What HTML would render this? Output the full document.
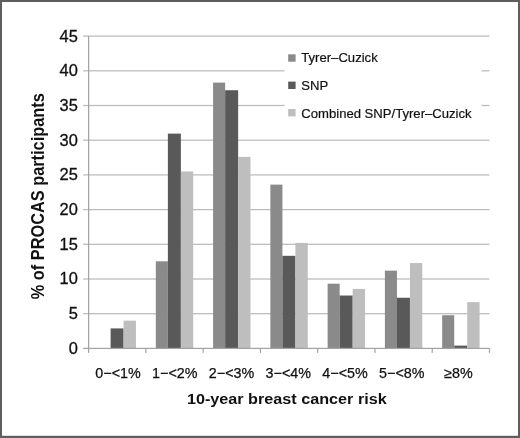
<!DOCTYPE html>
<html lang="en">
<head>
<meta charset="utf-8">
<title>10-year breast cancer risk</title>
<style>
html,body{margin:0;padding:0;background:#fff;}
body{width:520px;height:438px;position:relative;overflow:hidden;}
</style>
</head>
<body>
<svg width="520" height="438" viewBox="0 0 520 438" style="display:block;position:absolute;left:0;top:0" font-family="'Liberation Sans', sans-serif">
<rect x="0" y="0" width="520" height="438" fill="#fff"/>
<rect x="83.10" y="313.08" width="406.39" height="1.25" fill="#bbbbbb"/>
<rect x="83.10" y="278.38" width="406.39" height="1.25" fill="#bbbbbb"/>
<rect x="83.10" y="243.68" width="406.39" height="1.25" fill="#bbbbbb"/>
<rect x="83.10" y="208.98" width="406.39" height="1.25" fill="#bbbbbb"/>
<rect x="83.10" y="174.28" width="406.39" height="1.25" fill="#bbbbbb"/>
<rect x="83.10" y="139.58" width="406.39" height="1.25" fill="#bbbbbb"/>
<rect x="83.10" y="104.88" width="406.39" height="1.25" fill="#bbbbbb"/>
<rect x="83.10" y="70.18" width="406.39" height="1.25" fill="#bbbbbb"/>
<rect x="83.10" y="35.48" width="406.39" height="1.25" fill="#bbbbbb"/>
<rect x="284.5" y="42" width="197" height="90" fill="#fff"/>
<rect x="110.60" y="328.41" width="13.00" height="19.99" fill="#595959"/>
<rect x="123.60" y="320.64" width="12.35" height="27.76" fill="#bebebe"/>
<rect x="155.82" y="261.30" width="12.05" height="87.10" fill="#8a8a8a"/>
<rect x="167.87" y="133.61" width="13.00" height="214.79" fill="#595959"/>
<rect x="180.87" y="171.43" width="12.35" height="176.97" fill="#bebebe"/>
<rect x="213.09" y="82.60" width="12.05" height="265.80" fill="#8a8a8a"/>
<rect x="225.14" y="90.23" width="13.00" height="258.17" fill="#595959"/>
<rect x="238.14" y="156.86" width="12.35" height="191.54" fill="#bebebe"/>
<rect x="270.36" y="184.62" width="12.05" height="163.78" fill="#8a8a8a"/>
<rect x="282.41" y="255.82" width="13.00" height="92.58" fill="#595959"/>
<rect x="295.41" y="242.91" width="12.35" height="105.49" fill="#bebebe"/>
<rect x="327.63" y="283.72" width="12.05" height="64.68" fill="#8a8a8a"/>
<rect x="339.68" y="295.52" width="13.00" height="52.88" fill="#595959"/>
<rect x="352.68" y="288.92" width="12.35" height="59.48" fill="#bebebe"/>
<rect x="384.90" y="270.67" width="12.05" height="77.73" fill="#8a8a8a"/>
<rect x="396.95" y="297.74" width="13.00" height="50.66" fill="#595959"/>
<rect x="409.95" y="263.04" width="12.35" height="85.36" fill="#bebebe"/>
<rect x="442.17" y="315.23" width="12.05" height="33.17" fill="#8a8a8a"/>
<rect x="454.22" y="345.62" width="13.00" height="2.78" fill="#595959"/>
<rect x="467.22" y="302.11" width="12.35" height="46.29" fill="#bebebe"/>
<rect x="83.10" y="347.80" width="406.39" height="1.2" fill="#a2a2a2"/>
<rect x="88.00" y="36.10" width="1.2" height="316.80" fill="#a2a2a2"/>
<rect x="145.27" y="348.40" width="1.2" height="4.5" fill="#a2a2a2"/>
<rect x="202.54" y="348.40" width="1.2" height="4.5" fill="#a2a2a2"/>
<rect x="259.81" y="348.40" width="1.2" height="4.5" fill="#a2a2a2"/>
<rect x="317.08" y="348.40" width="1.2" height="4.5" fill="#a2a2a2"/>
<rect x="374.35" y="348.40" width="1.2" height="4.5" fill="#a2a2a2"/>
<rect x="431.62" y="348.40" width="1.2" height="4.5" fill="#a2a2a2"/>
<rect x="488.89" y="348.40" width="1.2" height="4.5" fill="#a2a2a2"/>
<text transform="translate(77.8,353.85) scale(1.04,1)" font-size="15.8" text-anchor="end" fill="#111" stroke="#111" stroke-width="0.3">0</text>
<text transform="translate(77.8,319.15) scale(1.04,1)" font-size="15.8" text-anchor="end" fill="#111" stroke="#111" stroke-width="0.3">5</text>
<text transform="translate(77.8,284.45) scale(1.04,1)" font-size="15.8" text-anchor="end" fill="#111" stroke="#111" stroke-width="0.3">10</text>
<text transform="translate(77.8,249.75) scale(1.04,1)" font-size="15.8" text-anchor="end" fill="#111" stroke="#111" stroke-width="0.3">15</text>
<text transform="translate(77.8,215.05) scale(1.04,1)" font-size="15.8" text-anchor="end" fill="#111" stroke="#111" stroke-width="0.3">20</text>
<text transform="translate(77.8,180.35) scale(1.04,1)" font-size="15.8" text-anchor="end" fill="#111" stroke="#111" stroke-width="0.3">25</text>
<text transform="translate(77.8,145.65) scale(1.04,1)" font-size="15.8" text-anchor="end" fill="#111" stroke="#111" stroke-width="0.3">30</text>
<text transform="translate(77.8,110.95) scale(1.04,1)" font-size="15.8" text-anchor="end" fill="#111" stroke="#111" stroke-width="0.3">35</text>
<text transform="translate(77.8,76.25) scale(1.04,1)" font-size="15.8" text-anchor="end" fill="#111" stroke="#111" stroke-width="0.3">40</text>
<text transform="translate(77.8,41.55) scale(1.04,1)" font-size="15.8" text-anchor="end" fill="#111" stroke="#111" stroke-width="0.3">45</text>
<text x="118.00" y="377.6" font-size="14.3" text-anchor="middle" fill="#111" stroke="#111" stroke-width="0.25">0<tspan dy="0.6">−</tspan><tspan dy="-0.6">&lt;1%</tspan></text>
<text x="174.75" y="377.6" font-size="14.3" text-anchor="middle" fill="#111" stroke="#111" stroke-width="0.25">1<tspan dy="0.6">−</tspan><tspan dy="-0.6">&lt;2%</tspan></text>
<text x="231.50" y="377.6" font-size="14.3" text-anchor="middle" fill="#111" stroke="#111" stroke-width="0.25">2<tspan dy="0.6">−</tspan><tspan dy="-0.6">&lt;3%</tspan></text>
<text x="288.25" y="377.6" font-size="14.3" text-anchor="middle" fill="#111" stroke="#111" stroke-width="0.25">3<tspan dy="0.6">−</tspan><tspan dy="-0.6">&lt;4%</tspan></text>
<text x="345.00" y="377.6" font-size="14.3" text-anchor="middle" fill="#111" stroke="#111" stroke-width="0.25">4<tspan dy="0.6">−</tspan><tspan dy="-0.6">&lt;5%</tspan></text>
<text x="401.75" y="377.6" font-size="14.3" text-anchor="middle" fill="#111" stroke="#111" stroke-width="0.25">5<tspan dy="0.6">−</tspan><tspan dy="-0.6">&lt;8%</tspan></text>
<text x="458.50" y="377.6" font-size="14.3" text-anchor="middle" fill="#111" stroke="#111" stroke-width="0.25">≥8%</text>
<text transform="translate(286.8,404.4) scale(1.045,1)" font-size="15.5" font-weight="bold" text-anchor="middle" fill="#111">10-year breast cancer risk</text>
<text transform="translate(44.2,93.2) rotate(-90) scale(1,1.1)" font-size="16.35" font-weight="bold" text-anchor="end" fill="#111">% of PROCAS participants</text>
<rect x="288.2" y="54.30" width="7.4" height="7.4" fill="#8a8a8a"/>
<text x="301.3" y="61.80" font-size="13.1" fill="#111" stroke="#111" stroke-width="0.2">Tyrer–Cuzick</text>
<rect x="288.2" y="81.60" width="7.4" height="7.4" fill="#595959"/>
<text x="301.3" y="89.90" font-size="13.1" fill="#111" stroke="#111" stroke-width="0.2">SNP</text>
<rect x="288.2" y="109.00" width="7.4" height="7.4" fill="#bebebe"/>
<text x="301.3" y="117.60" font-size="13.1" fill="#111" stroke="#111" stroke-width="0.2">Combined SNP/Tyrer–Cuzick</text>
<rect x="1" y="1" width="518" height="436" fill="none" stroke="#5e5e5e" stroke-width="2"/>
<rect x="0" y="435.8" width="520" height="2.2" fill="#5e5e5e"/>
</svg>
</body>
</html>
